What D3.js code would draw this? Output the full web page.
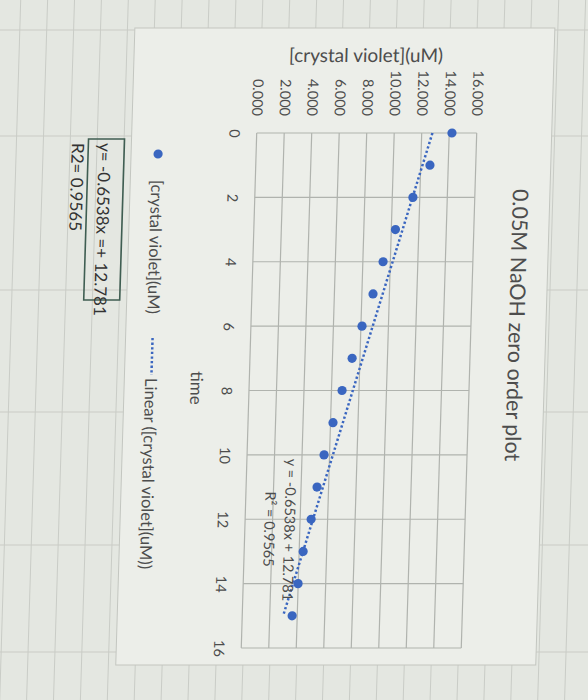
<!DOCTYPE html>
<html>
<head>
<meta charset="utf-8">
<script src="https://cdn.jsdelivr.net/npm/d3@7"></script>
<style>
  html, body { margin: 0; padding: 0; background: #e4e7e1; }
  svg { display: block; font-family: Lato, "Open Sans", sans-serif; }
</style>
</head>
<body>
<svg id="chart" width="588" height="700"></svg>
<script>
// values
const times = [0, 1, 2, 3, 4, 5, 6, 7, 8, 9, 10, 11, 12, 13, 14, 15];
const concentrations = [14.2, 12.67, 11.5, 10.3, 9.47, 8.81, 8.08, 7.43, 6.77, 6.18, 5.6, 5.16, 4.8, 4.29, 3.99, 3.63];
const timeTicks = [0, 2, 4, 6, 8, 10, 12, 14, 16];
const concTicks = [0, 2, 4, 6, 8, 10, 12, 14, 16];
const trendSlope = -0.6538;
const trendIntercept = 12.781;
const rSquared = 0.9565;

const chartTitle = '0.05M NaOH zero order plot';
const xTitle = 'time';
const yTitle = '[crystal violet](uM)';
const seriesName = '[crystal violet](uM)';
const trendName = 'Linear ([crystal violet](uM))';
const cellEquation = 'y= -0.6538x =+ 12.781';
const cellR2 = 'R2= 0.9565';

const blue = '#3a66c0';
const textColor = '#4d4d4d';

(function() {
    const svg = d3.select('#chart');

    // the photo is slightly sheared and the whole sheet is turned a quarter turn
    const sheet = svg.append('g')
        .attr('transform', 'translate(11.7,0) skewX(-1.718)');
    const g = sheet.append('g')
        .attr('transform', 'translate(588,0) rotate(90)');

    // spreadsheet cell grid behind the chart
    const rowLines = d3.range(0, 24).map(k => 579 - 26.9 * k);
    const colLines = [30, 136, 290, 412, 545, 652];
    g.append('g').selectAll('line.row').data(rowLines).join('line')
        .attr('x1', -30).attr('x2', 730)
        .attr('y1', d => d).attr('y2', d => d)
        .attr('stroke', '#c9ccc6').attr('stroke-width', 1);
    g.append('g').selectAll('line.col').data(colLines).join('line')
        .attr('x1', d => d).attr('x2', d => d)
        .attr('y1', -40).attr('y2', 640)
        .attr('stroke', '#c9ccc6').attr('stroke-width', 1);

    // pasted cell with the fit written by hand
    g.append('rect')
        .attr('x', 139).attr('y', 471)
        .attr('width', 161).attr('height', 36)
        .attr('fill', 'none')
        .attr('stroke', '#3f5e52').attr('stroke-width', 1.6);
    g.append('text')
        .attr('x', 143).attr('y', 490)
        .attr('dominant-baseline', 'central')
        .attr('font-size', 17).attr('fill', '#333')
        .text(cellEquation);
    g.append('text')
        .attr('x', 143).attr('y', 517)
        .attr('dominant-baseline', 'central')
        .attr('font-size', 17).attr('fill', '#333')
        .text(cellR2);

    // chart area
    g.append('rect')
        .attr('x', 28).attr('y', 44)
        .attr('width', 637).attr('height', 420)
        .attr('fill', '#eceee9')
        .attr('stroke', '#c3c6c0').attr('stroke-width', 1);

    const x = d3.scaleLinear().domain([0, 16]).range([133, 648]);
    const y = d3.scaleLinear().domain([0, 16]).range([339, 119]);

    // gridlines
    g.append('g').selectAll('line').data(concTicks).join('line')
        .attr('x1', x(0)).attr('x2', x(16))
        .attr('y1', d => y(d)).attr('y2', d => y(d))
        .attr('stroke', '#b0b3ae').attr('stroke-width', 1.2);
    g.append('g').selectAll('line').data(timeTicks).join('line')
        .attr('x1', d => x(d)).attr('x2', d => x(d))
        .attr('y1', y(0)).attr('y2', y(16))
        .attr('stroke', '#b0b3ae').attr('stroke-width', 1.2);

    // axes (labels only, Excel style)
    const yAxis = g.append('g')
        .attr('transform', `translate(${x(0)},0)`)
        .call(d3.axisLeft(y).tickValues(concTicks).tickFormat(d3.format('.3f')).tickSize(0).tickPadding(17));
    const xAxis = g.append('g')
        .attr('transform', `translate(0,${y(0)})`)
        .call(d3.axisBottom(x).tickValues(timeTicks).tickFormat(d3.format('d')).tickSize(0).tickPadding(17));
    [yAxis, xAxis].forEach(ax => {
        ax.select('.domain').remove();
        ax.selectAll('text')
            .attr('font-family', 'Lato, "Open Sans", sans-serif')
            .attr('font-size', 14.5)
            .attr('fill', textColor);
    });

    // linear trendline over the data range
    const trendData = d3.extent(times).map(t => [t, trendSlope * t + trendIntercept]);
    const line = d3.line().x(d => x(d[0])).y(d => y(d[1]));
    g.append('path')
        .datum(trendData)
        .attr('d', line)
        .attr('fill', 'none')
        .attr('stroke', blue)
        .attr('stroke-width', 2.5)
        .attr('stroke-dasharray', '2.3 2.3');

    // data points
    g.append('g').selectAll('circle')
        .data(times.map((t, i) => [t, concentrations[i]]))
        .join('circle')
        .attr('cx', d => x(d[0]))
        .attr('cy', d => y(d[1]))
        .attr('r', 4.6)
        .attr('fill', blue);

    // trendline label
    g.append('text')
        .attr('x', 530).attr('y', 294)
        .attr('text-anchor', 'middle').attr('dominant-baseline', 'central')
        .attr('font-size', 14.5).attr('fill', textColor)
        .text(`y = ${trendSlope}x + ${trendIntercept}`);
    g.append('text')
        .attr('x', 529).attr('y', 314)
        .attr('text-anchor', 'middle').attr('dominant-baseline', 'central')
        .attr('font-size', 14.5).attr('fill', textColor)
        .text(`R² = ${rSquared}`);

    // titles
    g.append('text')
        .attr('x', 325).attr('y', 73)
        .attr('text-anchor', 'middle').attr('dominant-baseline', 'central')
        .attr('font-size', 21.5).attr('fill', textColor)
        .text(chartTitle);
    g.append('text')
        .attr('transform', 'translate(55,232) rotate(-90)')
        .attr('text-anchor', 'middle').attr('dominant-baseline', 'central')
        .attr('font-size', 19).attr('fill', textColor)
        .text(yTitle);
    g.append('text')
        .attr('x', 388).attr('y', 391)
        .attr('text-anchor', 'middle').attr('dominant-baseline', 'central')
        .attr('font-size', 17).attr('fill', textColor)
        .text(xTitle);

    // legend
    const legendY = 437;
    g.append('circle')
        .attr('cx', 154).attr('cy', legendY).attr('r', 4.6)
        .attr('fill', blue);
    g.append('text')
        .attr('x', 180).attr('y', legendY)
        .attr('dominant-baseline', 'central')
        .attr('font-size', 16.5).attr('fill', textColor)
        .text(seriesName);
    g.append('line')
        .attr('x1', 338).attr('x2', 375)
        .attr('y1', legendY).attr('y2', legendY)
        .attr('stroke', blue).attr('stroke-width', 2.5)
        .attr('stroke-dasharray', '2.3 2.3');
    g.append('text')
        .attr('x', 378).attr('y', legendY)
        .attr('dominant-baseline', 'central')
        .attr('font-size', 16.5).attr('fill', textColor)
        .text(trendName);
})();
</script>
</body>
</html>
